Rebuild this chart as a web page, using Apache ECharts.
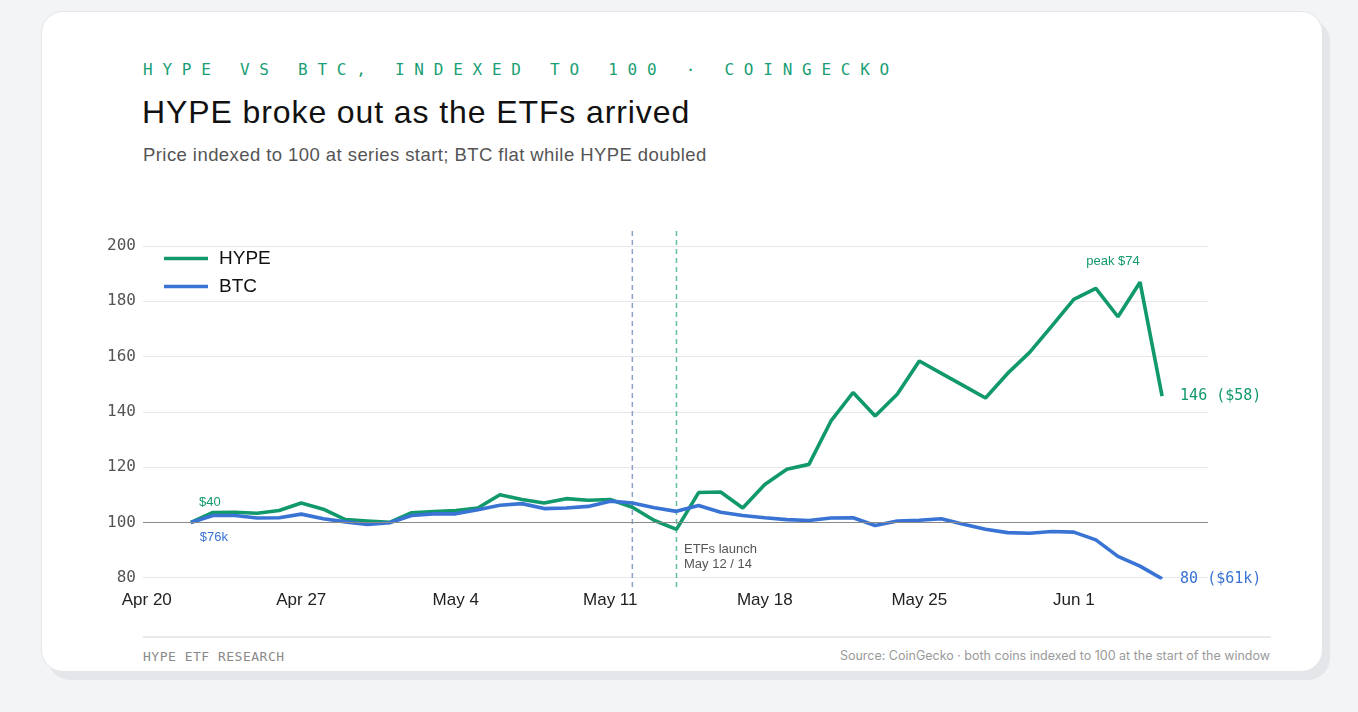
<!DOCTYPE html>
<html>
<head>
<meta charset="utf-8">
<script src="https://cdn.jsdelivr.net/npm/echarts@6/dist/echarts.min.js"></script>
<style>
  html, body { margin:0; padding:0; width:1358px; height:712px; background:#f3f4f6; overflow:hidden;
    font-family:"Liberation Sans", Arial, sans-serif; }
  #card { position:absolute; left:41px; top:11px; width:1280px; height:659px; background:#fff;
    border:1px solid #e4e6e9; border-radius:22px; box-shadow:7px 8px 0 #e4e6e9; }
  #chart { position:absolute; left:0; top:0; width:1358px; height:712px; }
  .txt { position:absolute; white-space:nowrap; line-height:1; }
  .kicker { left:143px; top:61.5px; font-family:"DejaVu Sans Mono", monospace; font-size:16px;
    letter-spacing:9.75px; color:#1a9e74; }
  .title { left:142px; top:96.2px; font-size:32px; letter-spacing:0.9px; color:#111; }
  .sub { left:143px; top:146.3px; font-size:18.5px; letter-spacing:0.43px; color:#555; }
  .rule { position:absolute; left:143px; top:636px; width:1128px; height:2px; background:#e8eaed; }
  .foot-l { left:143px; top:650px; font-family:"DejaVu Sans Mono", monospace; font-size:13px;
    letter-spacing:0.5px; color:#8a8a8a; }
  .foot-r { right:88px; top:650px; font-family:Inter, "Liberation Sans", sans-serif; font-size:12.5px; color:#9a9a9a; }
</style>
</head>
<body>
<div id="card"></div>
<div class="txt kicker">HYPE VS BTC, INDEXED TO 100 · COINGECKO</div>
<div class="txt title">HYPE broke out as the ETFs arrived</div>
<div class="txt sub">Price indexed to 100 at series start; BTC flat while HYPE doubled</div>
<div class="rule"></div>
<div class="txt foot-l">HYPE ETF RESEARCH</div>
<div class="txt foot-r">Source: CoinGecko · both coins indexed to 100 at the start of the window</div>
<div id="chart"></div>
<script>
// ---------- data ----------
const axisOrigin = '2025-04-20';
const dates = [
  '2025-04-22','2025-04-23','2025-04-24','2025-04-25','2025-04-26','2025-04-27','2025-04-28',
  '2025-04-29','2025-04-30','2025-05-01','2025-05-02','2025-05-03','2025-05-04','2025-05-05',
  '2025-05-06','2025-05-07','2025-05-08','2025-05-09','2025-05-10','2025-05-11','2025-05-12',
  '2025-05-13','2025-05-14','2025-05-15','2025-05-16','2025-05-17','2025-05-18','2025-05-19',
  '2025-05-20','2025-05-21','2025-05-22','2025-05-23','2025-05-24','2025-05-25','2025-05-26',
  '2025-05-27','2025-05-28','2025-05-29','2025-05-30','2025-05-31','2025-06-01','2025-06-02',
  '2025-06-03','2025-06-04','2025-06-05'
];
const hype = [
  100, 103.6, 103.7, 103.3, 104.3, 107.0, 104.8,
  101.0, 100.5, 100.0, 103.5, 103.9, 104.3, 105.2,
  110.0, 108.3, 107.0, 108.6, 108.0, 108.3, 105.5,
  100.7, 97.5, 110.8, 111.0, 105.2, 113.7, 119.2,
  121.0, 136.7, 147.0, 138.5, 146.4, 158.4, 153.9,
  149.5, 145.0, 153.9, 161.5, 171.0, 180.7, 184.7,
  174.4, 186.9, 145.7
];
const btc = [
  100, 102.5, 102.5, 101.6, 101.7, 103.0, 101.3,
  100.2, 99.3, 99.9, 102.5, 103.1, 103.1, 104.6,
  106.2, 106.8, 105.0, 105.2, 105.8, 107.7, 107.0,
  105.3, 104.0, 106.1, 103.7, 102.5, 101.7, 101.0,
  100.7, 101.6, 101.7, 98.9, 100.5, 100.8, 101.3,
  99.3, 97.5, 96.3, 96.1, 96.7, 96.5, 93.7,
  87.7, 84.2, 79.6
];
const tickDates = ['2025-04-20','2025-04-27','2025-05-04','2025-05-11','2025-05-18','2025-05-25','2025-06-01'];
const tickLabels = ['Apr 20','Apr 27','May 4','May 11','May 18','May 25','Jun 1'];
const etfDates = ['2025-05-12','2025-05-14'];
const etfNote = 'ETFs launch\nMay 12 / 14';
const hypeStartUsd = '$40', hypePeakUsd = '$74', hypeEndUsd = '$58';
const btcStartUsd = '$76k', btcEndUsd = '$61k';

// ---------- helpers ----------
const dayOf = d => (Date.parse(d) - Date.parse(axisOrigin)) / 86400000;
const GREEN = '#11996c', BLUE = '#3973d3';
const MONO = '"DejaVu Sans Mono", monospace', SANS = '"Liberation Sans", Arial, sans-serif';
const tickDays = tickDates.map(dayOf);
const hypeData = dates.map((d, i) => [dayOf(d), hype[i]]);
const btcData = dates.map((d, i) => [dayOf(d), btc[i]]);
const peakIdx = hype.indexOf(Math.max(...hype));
const etfColors = ['#8ea1c8', '#5fbf9c'];

const chart = echarts.init(document.getElementById('chart'), null, { renderer: 'canvas' });
const markPt = (coord, text, color, position, offset) => ({
  coord, symbol: 'circle', symbolSize: 0, itemStyle: { color: 'transparent' },
  label: { show: true, formatter: text, position, offset, color, fontSize: 13, fontFamily: SANS }
});

chart.setOption({
  animation: false,
  backgroundColor: 'transparent',
  grid: { left: 143, right: 150, top: 246, bottom: 134.3, containLabel: false },
  legend: {
    data: ['HYPE', 'BTC'], orient: 'vertical', left: 159, top: 244,
    icon: 'rect', itemWidth: 44, itemHeight: 3.5, itemGap: 9,
    textStyle: { fontSize: 19, color: '#111', fontFamily: SANS, padding: [0, 0, 0, 6] },
    selectedMode: false
  },
  xAxis: {
    type: 'value', min: -0.17, max: 48.08,
    axisLine: { show: false }, axisTick: { show: false }, splitLine: { show: false },
    axisLabel: {
      customValues: tickDays, margin: 14, fontSize: 17, color: '#222', fontFamily: SANS,
      formatter: v => tickLabels[tickDays.indexOf(v)]
    }
  },
  yAxis: {
    type: 'value', min: 80, max: 200, interval: 20,
    axisLine: { show: false }, axisTick: { show: false },
    splitLine: { lineStyle: { color: '#e6e7ea', width: 1 } },
    axisLabel: { margin: 7, fontSize: 16, color: '#555', fontFamily: MONO }
  },
  series: [
    {
      type: 'custom', name: 'etf', z: 1, silent: true, clip: false,
      data: etfDates.map(d => [dayOf(d), 100]),
      renderItem: (params, api) => {
        const x = api.value(0);
        const top = api.coord([x, 200]);
        const bot = api.coord([x, 80]);
        const children = [{
          type: 'line',
          shape: { x1: top[0], y1: top[1] - 15, x2: bot[0], y2: bot[1] + 13 },
          style: { stroke: etfColors[params.dataIndex], lineWidth: 1.5, lineDash: [5, 4] }
        }];
        if (params.dataIndex === etfDates.length - 1) {
          const p = api.coord([x, 87.6]);
          children.push({
            type: 'text', x: p[0] + 7.5, y: p[1],
            style: { text: etfNote, fill: '#555', fontSize: 13, fontFamily: SANS,
              lineHeight: 15, align: 'left', verticalAlign: 'middle' }
          });
        }
        return { type: 'group', children };
      },
      markLine: {
        silent: true, symbol: 'none', label: { show: false },
        lineStyle: { color: '#8a8a8a', width: 1, type: 'solid' },
        data: [{ yAxis: 100 }]
      }
    },
    {
      type: 'line', name: 'HYPE', z: 3, data: hypeData, symbol: 'none', showSymbol: false,
      lineStyle: { color: GREEN, width: 3.6 }, itemStyle: { color: GREEN },
      endLabel: {
        show: true, distance: 18, fontFamily: MONO, fontSize: 15, color: GREEN,
        formatter: p => Math.round(p.value[1]) + ' (' + hypeEndUsd + ')'
      },
      markPoint: {
        silent: true,
        data: [
          markPt(hypeData[0], hypeStartUsd, GREEN, 'top', [19, -8]),
          markPt(hypeData[peakIdx], 'peak ' + hypePeakUsd, GREEN, 'top', [-27, -9.5])
        ]
      }
    },
    {
      type: 'line', name: 'BTC', z: 4, data: btcData, symbol: 'none', showSymbol: false,
      lineStyle: { color: BLUE, width: 3.6 }, itemStyle: { color: BLUE },
      endLabel: {
        show: true, distance: 18, fontFamily: MONO, fontSize: 15, color: BLUE,
        formatter: p => Math.round(p.value[1]) + ' (' + btcEndUsd + ')'
      },
      markPoint: {
        silent: true,
        data: [ markPt(btcData[0], btcStartUsd, BLUE, 'bottom', [23, 4]) ]
      }
    }
  ]
});
</script>
</body>
</html>
